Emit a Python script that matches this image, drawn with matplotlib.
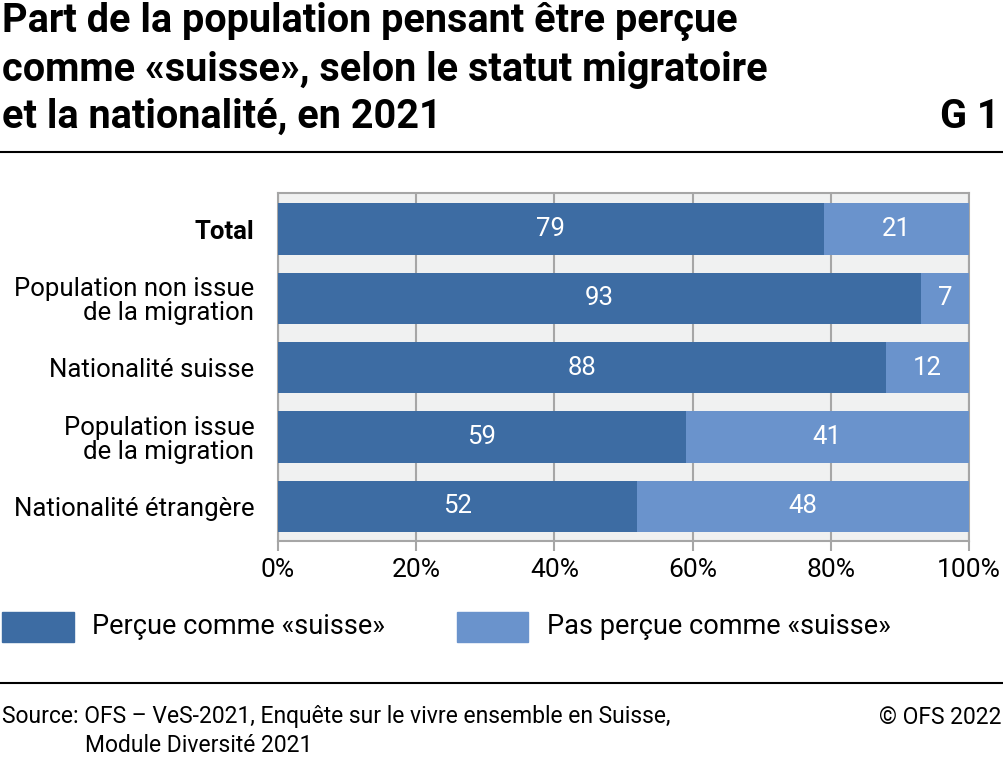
import matplotlib
matplotlib.use("Agg")
import matplotlib.pyplot as plt
from matplotlib.patches import Rectangle
from matplotlib.lines import Line2D

plt.rcParams["font.family"] = ["Roboto", "DejaVu Sans"]

categories = [
    "Total",
    "Population non issue\nde la migration",
    "Nationalité suisse",
    "Population issue\nde la migration",
    "Nationalité étrangère",
]
percue = [79, 93, 88, 59, 52]
pas_percue = [21, 7, 12, 41, 48]
series_names = ["Perçue comme «suisse»", "Pas perçue comme «suisse»"]
xticks = [0, 20, 40, 60, 80, 100]

dark = "#3d6ca3"
light = "#6a93cc"
grid_gray = "#a6a6a6"

fig = plt.figure(figsize=(10.04, 7.6), dpi=100)
ax = fig.add_axes([278 / 1004, 219 / 760, 691 / 1004, 348 / 760])
ax.set_facecolor("#f0f1f1")

y = list(range(len(categories)))
ax.barh(y, percue, height=0.74, color=dark, zorder=3)
ax.barh(y, pas_percue, left=percue, height=0.74, color=light, zorder=3)

for i in y:
    ax.text(percue[i] / 2, i, str(percue[i]), ha="center", va="center",
            color="white", fontsize=18.5, zorder=4)
    ax.text(percue[i] + pas_percue[i] / 2, i, str(pas_percue[i]), ha="center",
            va="center", color="white", fontsize=18.5, zorder=4)

ax.set_xlim(0, 100)
ax.set_ylim(4.5, -0.52)
ax.set_xticks(xticks)
ax.set_xticklabels([f"{t}%" for t in xticks], fontsize=19)
ax.set_yticks(y)
ax.set_yticklabels(categories, fontsize=18.5, linespacing=1.0)
ax.get_yticklabels()[0].set_fontweight("bold")
ax.tick_params(axis="y", length=0, pad=17)
ax.tick_params(axis="x", length=7, width=1.5, color=grid_gray, pad=5)
ax.grid(axis="x", color=grid_gray, linewidth=1.5, zorder=1)
for s in ax.spines.values():
    s.set_color(grid_gray)
    s.set_linewidth(1.5)

# title
fig.text(2 / 1004, 1 - 2 / 760, "Part de la population pensant être perçue\n"
         "comme «suisse», selon le statut migratoire\net la nationalité, en 2021",
         fontsize=28.5, fontweight="bold", va="top", ha="left", linespacing=1.32)
fig.text(1000 / 1004, 1 - 128 / 760, "G 1", fontsize=28.5, fontweight="bold",
         ha="right", va="baseline")
fig.add_artist(Line2D([0, 1], [1 - 152 / 760] * 2, color="black", lw=1.5))

# legend
fig.add_artist(Rectangle((2 / 1004, 1 - 642 / 760), 72 / 1004, 30 / 760,
                         color=dark, transform=fig.transFigure))
fig.text(92 / 1004, 1 - 627 / 760, series_names[0], fontsize=19.5, va="center")
fig.add_artist(Rectangle((457 / 1004, 1 - 642 / 760), 71 / 1004, 30 / 760,
                         color=light, transform=fig.transFigure))
fig.text(547 / 1004, 1 - 627 / 760, series_names[1], fontsize=19.5, va="center")

fig.add_artist(Line2D([0, 1], [1 - 683 / 760] * 2, color="black", lw=1.5))

# source
fig.text(2 / 1004, 1 - 717 / 760, "Source: OFS – VeS-2021, Enquête sur le vivre ensemble en Suisse,",
         fontsize=16.5, va="center")
fig.text(85 / 1004, 1 - 745 / 760, "Module Diversité 2021", fontsize=16.5, va="center")
fig.text(1002 / 1004, 1 - 717 / 760, "© OFS 2022", fontsize=16.5, va="center", ha="right")

fig.savefig("out.png", dpi=100)
